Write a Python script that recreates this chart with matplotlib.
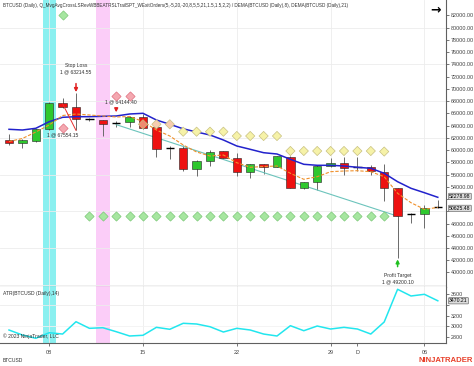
import numpy as np
import matplotlib
matplotlib.use("Agg")
import matplotlib.pyplot as plt

plt.rcParams['font.family'] = ['Liberation Sans', 'DejaVu Sans']

# daily bars, Nov 05 .. Dec 07
opens  = [61636, 61097, 61473, 63384, 67629, 66976, 65016, 64902, 64380, 64527, 65441,
          63710, 60300, 60379, 56900, 58191, 59840, 58745, 56360, 57668, 57276, 58908,
          53847, 54729, 57390, 57831, 57200, 57276, 56460, 53748, 49500, 49501, 50600]
highs  = [62567, 61750, 63500, 67890, 68445, 69262, 65300, 64950, 64700, 65550, 65833,
          63760, 60656, 60820, 58300, 59993, 59900, 59464, 57720, 57720, 59100, 59000,
          54800, 57500, 58647, 58908, 58908, 57550, 57717, 53800, 49765, 51022, 51838]
lows   = [60819, 60280, 61300, 63350, 66860, 63214, 64740, 62338, 63700, 63808, 63500,
          58810, 58485, 56574, 55757, 57440, 58700, 55757, 55382, 56084, 57200, 53800,
          53700, 53471, 57300, 55921, 56574, 55921, 51675, 42317, 48033, 47216, 50500]
closes = [61146, 61636, 63384, 67629, 67025, 65016, 64966, 64200, 64330, 65441, 63596,
          60166, 60250, 56900, 58191, 59727, 58745, 56360, 57668, 57276, 59023, 53847,
          54729, 57437, 57831, 57113, 57150, 56623, 53748, 49276, 49560, 50481, 50640]

dema21 = [63383, 63269, 63547, 64625, 65343, 65441, 65441, 65507, 65555, 65882, 65996,
          64902, 64200, 63465, 62942, 62452, 61636, 60656, 60117, 59562, 59350, 58485,
          57668, 57505, 57505, 57390, 57178, 57015, 56198, 54826, 53748, 53030, 52278.98]
dema8 = [61391, 61881, 62942, 64085, 65636, 65882, 65719, 65555, 65392, 65474, 64657,
         63269, 62289, 60820, 59677, 59023, 59187, 57929, 57178, 57308, 57390, 56198,
         55218, 55643, 56460, 56574, 56623, 56460, 55643, 52932, 51397, 50319, 50625.48]

atr = [2934, 2842, 2782, 2884, 2860, 3086, 2965, 2976, 2903, 2824, 2837, 2983, 2947,
       3057, 3044, 2994, 2897, 2965, 2934, 2860, 2824, 3013, 2921, 3007, 2952, 2983,
       2952, 2860, 3081, 3681, 3558, 3589, 3470.21]

day_ticks = [3, 10, 17, 24, 26, 31]
day_labels = ["08", "15", "22", "29", "D", "06"]

# trailing stop markers
stop_idx = list(range(10, 29))
stop_px = [64200, 64200, 64200, 62991, 62991, 62991, 62991, 62289, 62289, 62289, 62289,
           59840, 59840, 59840, 59840, 59840, 59840, 59840, 59750]
stop_col = ['#f08a70', '#f7cdb0', '#f7cdb0'] + ['#f6f2a8'] * 16
target_idx = list(range(6, 29))
target_px = 49300

x = np.arange(len(opens))

fig = plt.figure(figsize=(4.74, 3.66), dpi=100)
W, H = 474.0, 366.0
ax = fig.add_axes([0, 1 - 287 / H, 446 / W, 287 / H])
ax2 = fig.add_axes([0, 1 - 343.3 / H, 446 / W, 56.3 / H], sharex=ax)

xl = (-9 / 13.4, 437 / 13.4)
ax.set_xlim(xl)
ax.set_ylim(37631, 84498)
ax2.set_ylim(2690, 3723)

for a in (ax, ax2):
    a.axvspan(2.5, 3.5, color='#8af0f0', lw=0, zorder=0)
    a.axvspan(6.5, 7.5, color='#fbcdf8', lw=0, zorder=0)
    for t in [3, 10, 17, 24, 31]:
        a.axvline(t, color='#ececec', lw=0.6, zorder=0.5)
    for s in ['top', 'left']:
        a.spines[s].set_visible(False)
    a.spines['right'].set_color('#606060')
    a.spines['bottom'].set_color('#606060')
    a.spines['right'].set_linewidth(0.8)
    a.spines['bottom'].set_linewidth(0.8)
    a.yaxis.tick_right()
    a.tick_params(axis='y', length=2, width=0.5, labelsize=3.9, pad=1.5, colors='#404040')

for g in range(38000, 84000, 6000):
    ax.axhline(g, color='#ececec', lw=0.6, zorder=0.5)
ax2.axhline(3400, color='#ececec', lw=0.6, zorder=0.5)
ax2.axhline(3000, color='#f2f2f2', lw=0.6, zorder=0.5)

# labels under the last-value boxes are hidden, as in the platform
price_ticks = list(range(40000, 84000, 2000))
ax.set_yticks(price_ticks)
ax.set_yticklabels(['' if v in (50000, 52000) else '%.2f' % v for v in price_ticks])
ax.tick_params(axis='x', length=0, labelbottom=False)
ax2.set_yticks([2800, 3000, 3200, 3400, 3600])
ax2.set_yticklabels(['2800', '3000', '3200', '', '3600'])
ax2.set_xticks(day_ticks)
ax2.set_xticklabels(day_labels)
ax2.tick_params(axis='x', length=2, width=0.5, labelsize=4, pad=3, colors='#404040')

# candles
for i in x:
    o, h, l, c = opens[i], highs[i], lows[i], closes[i]
    ax.vlines(i, l, h, color='#6a6a6a', lw=0.7, zorder=2)
    if abs(c - o) < 100:
        ax.hlines((o + c) / 2, i - 0.32, i + 0.32, color='black', lw=1.0, zorder=3)
    else:
        col = '#2ec82e' if c > o else '#ee1111'
        ax.bar(i, abs(c - o), bottom=min(o, c), width=0.62, color=col,
               edgecolor='#202020', linewidth=0.4, zorder=3)

ax.plot(x, dema21, color='#2222cc', lw=1.1, zorder=4)
ax.plot(x, dema8, color='#f0902a', lw=0.8, ls=(0, (3, 1.5)), zorder=4)

# trade lines
ax.plot([4, 5], [67554.15, 63214.55], color='#e83030', lw=0.7, zorder=4)
ax.plot([8, 29], [64144.40, 49200.10], color='#6cc4bc', lw=0.8, zorder=2.5)

ax.scatter(stop_idx, stop_px, marker='D', s=22, c=stop_col, edgecolors='#c8c080',
           linewidths=0.5, zorder=5)
ax.scatter(target_idx, [target_px] * len(target_idx), marker='D', s=22, c='#a6e6a0',
           edgecolors='#7cc878', linewidths=0.5, zorder=5)
ax.scatter([4], [82050], marker='D', s=22, c='#a6e6a0', edgecolors='#7cc878',
           linewidths=0.5, zorder=5)
ax.scatter([8, 9, 4], [68820, 68820, 63547], marker='D', s=22, c='#f4a8b0',
           edgecolors='#e07080', linewidths=0.5, zorder=5)

arrow_red = dict(arrowstyle='-|>', color='#e02020', lw=1.1, mutation_scale=5)
ax.annotate('', xy=(5, 69000), xytext=(5, 71300), arrowprops=arrow_red, zorder=6)
ax.annotate('', xy=(8, 65700), xytext=(8, 67250), arrowprops=arrow_red, zorder=6)
ax.annotate('', xy=(29, 42600), xytext=(29, 40500),
            arrowprops=dict(arrowstyle='-|>', color='#20c020', lw=1.1, mutation_scale=5),
            zorder=6)

fs = 3.6
ax.text(5, 72300, 'Stop Loss\n1 @ 63214.55', fontsize=fs, ha='center', va='bottom',
        linespacing=1.3, color='#303030')
ax.text(4, 62900, '1 @ 67554.15', fontsize=fs, ha='center', va='top', color='#303030')
ax.text(8.35, 67400, '1 @ 64144.40', fontsize=fs, ha='center', va='bottom', color='#303030')
ax.text(29, 39900, 'Profit Target\n1 @ 49200.10', fontsize=fs, ha='center', va='top',
        linespacing=1.3, color='#303030')

box = dict(boxstyle='round,pad=0.12', fc='#dcdcdc', ec='#707070', lw=0.5)
ax.text(32.85, dema21[-1] + 150, '%.2f' % dema21[-1], fontsize=3.7, va='center', ha='left',
        bbox=box, zorder=7)
ax.text(32.85, dema8[-1] - 150, '%.2f' % dema8[-1], fontsize=3.7, va='center', ha='left',
        bbox=box, zorder=7)

ax2.plot(x, atr, color='#22e6ee', lw=1.1, zorder=3)
ax2.text(32.85, atr[-1], '%.2f' % atr[-1], fontsize=3.7, va='center', ha='left',
         bbox=box, zorder=7)

fig.text(3 / W, 1 - 6 / H, 'BTCUSD (Daily), Q_MvgAvgCrossLSRevWBBEATRSLTrailSPT_WExitOrders'
         '(5,-5,20,-20,8,5,5,21,1.5,1.5,2,2) / DEMA(BTCUSD (Daily),8), DEMA(BTCUSD (Daily),21)',
         fontsize=3.35, ha='left', va='center', color='#303030')
fig.text(3 / W, 1 - 293 / H, 'ATR(BTCUSD (Daily),14)', fontsize=3.6, ha='left',
         va='center', color='#303030')
fig.text(3 / W, 1 - 336 / H, '\u00a9 2023 NinjaTrader, LLC', fontsize=3.6, ha='left',
         va='center', color='#303030')
fig.text(3 / W, 1 - 361 / H, 'BTCUSD', fontsize=3.6, ha='left', va='center', color='#303030')
fig.text(473 / W, 1 - 361 / H, 'NINJATRADER', fontsize=5.6, fontweight='bold', ha='right',
         va='center', color='#e8402a')
fig.text(436 / W, 1 - 10 / H, '\u2192', fontsize=9, fontweight='bold', ha='center',
         va='center', color='black', family='DejaVu Sans')

fig.savefig('out.png', dpi=100, facecolor='white')
